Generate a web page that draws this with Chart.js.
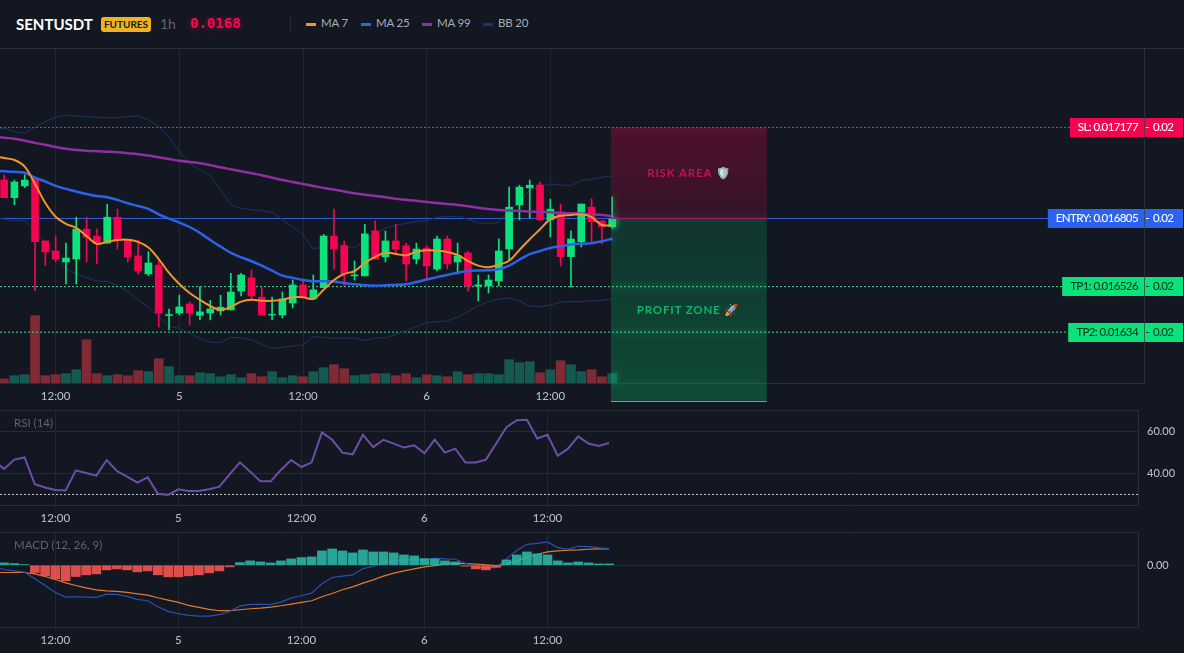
<!DOCTYPE html>
<html>
<head>
<meta charset="utf-8">
<script src="https://cdn.jsdelivr.net/npm/chart.js@4"></script>
<style>
    html, body { margin: 0; padding: 0; width: 1184px; height: 653px; overflow: hidden; background: #131722; font-family: Lato, sans-serif; }
    canvas { position: absolute; left: 0; }
    #header { position: absolute; left: 0; top: 0; width: 1184px; height: 48px; border-bottom: 1px solid #2a2e39; box-sizing: content-box; }
    #header span { position: absolute; white-space: nowrap; }
    .symbol { left: 16px; top: 15px; color: #fff; font-size: 15px; font-weight: 700; }
    .badge { left: 101px; top: 17px; width: 50px; height: 15px; line-height: 15px; text-align: center; background: #ecb424; color: #1a1a1a; font-size: 10px; font-weight: 700; border-radius: 3px; }
    .tf { left: 160px; top: 15px; color: #5d6470; font-size: 14px; }
    .price { left: 190px; top: 15px; color: #f6084f; font: 700 14px "DejaVu Sans Mono", monospace; text-shadow: 0 0 6px rgba(246,8,79,.5); }
    .divider { left: 290px; top: 17px; width: 1px; height: 14px; background: #2a2e39; }
    .dash { top: 23px; width: 10px; height: 3px; }
    .leg { top: 16px; color: #a7adb8; font-size: 11.5px; letter-spacing: -0.2px; }
    .pane-title { position: absolute; left: 14px; color: #5e6470; font-size: 11.5px; }
</style>
</head>
<body>
<div id="header">
    <span class="symbol">SENTUSDT</span>
    <span class="badge">FUTURES</span>
    <span class="tf">1h</span>
    <span class="price">0.0168</span>
    <span class="divider"></span>
    <span class="dash" style="left:306px;background:#f0962a"></span><span class="leg" style="left:321px">MA 7</span>
    <span class="dash" style="left:361px;background:#2b62e8"></span><span class="leg" style="left:376px">MA 25</span>
    <span class="dash" style="left:422px;background:#8e2fa3"></span><span class="leg" style="left:437px">MA 99</span>
    <span class="dash" style="left:483px;background:#1e3464"></span><span class="leg" style="left:498px">BB 20</span>
</div>
<canvas id="mainChart" style="top:0" width="1184" height="410"></canvas>
<canvas id="rsiChart" style="top:405px" width="1184" height="127"></canvas>
<canvas id="macdChart" style="top:527px" width="1184" height="126"></canvas>
<div class="pane-title" style="top:416px">RSI (14)</div>
<div class="pane-title" style="top:538px">MACD (12, 26, 9)</div>

<script>
// Axis
const timeTicks = [5, 17, 29, 41, 53];
const timeLabels = ['12:00', '5', '12:00', '6', '12:00'];
const xMin = -0.4;
const xMax = 110.6;

// Candles, first entry sits just left of the visible area
const opens = [0.016960,
    0.016962,0.016890,0.016938,0.016969,0.016713,0.016672,0.016627,0.016639,0.016761,0.016733,
    0.016704,0.016810,0.016717,0.016652,0.016578,0.016614,0.016408,0.016418,0.016455,0.016409,
    0.016418,0.016427,0.016431,0.016508,0.016562,0.016483,0.016410,0.016410,0.016459,0.016533,
    0.016476,0.016522,0.016733,0.016693,0.016570,0.016570,0.016754,0.016648,0.016713,0.016693,
    0.016639,0.016684,0.016598,0.016721,0.016627,0.016664,0.016529,0.016529,0.016549,0.016680,
    0.016860,0.016930,0.016942,0.016799,0.016832,0.016649,0.016709,0.016851,0.016795,0.016771];
const highs = [0.016990,
    0.016983,0.016962,0.016983,0.016971,0.016713,0.016733,0.016704,0.016810,0.016810,0.016761,
    0.016863,0.016843,0.016717,0.016717,0.016669,0.016635,0.016434,0.016491,0.016463,0.016526,
    0.016470,0.016491,0.016581,0.016581,0.016594,0.016524,0.016483,0.016504,0.016553,0.016553,
    0.016574,0.016740,0.016843,0.016713,0.016631,0.016781,0.016795,0.016754,0.016781,0.016704,
    0.016704,0.016693,0.016733,0.016733,0.016704,0.016672,0.016574,0.016574,0.016721,0.016933,
    0.016941,0.016962,0.016954,0.016884,0.016864,0.016754,0.016864,0.016885,0.016795,0.016893];
const lows = [0.016930,
    0.016890,0.016861,0.016931,0.016510,0.016612,0.016628,0.016537,0.016537,0.016627,0.016619,
    0.016704,0.016680,0.016627,0.016578,0.016571,0.016361,0.016349,0.016410,0.016369,0.016390,
    0.016390,0.016410,0.016431,0.016488,0.016472,0.016410,0.016390,0.016398,0.016439,0.016480,
    0.016472,0.016522,0.016598,0.016529,0.016553,0.016570,0.016639,0.016627,0.016663,0.016549,
    0.016619,0.016558,0.016590,0.016598,0.016578,0.016508,0.016468,0.016500,0.016529,0.016635,
    0.016799,0.016807,0.016795,0.016729,0.016611,0.016524,0.016688,0.016709,0.016701,0.016766];
const closes = [0.016950,
    0.016890,0.016954,0.016962,0.016710,0.016668,0.016639,0.016643,0.016761,0.016728,0.016704,
    0.016810,0.016717,0.016648,0.016590,0.016623,0.016418,0.016412,0.016443,0.016418,0.016423,
    0.016435,0.016442,0.016504,0.016574,0.016488,0.016410,0.016413,0.016476,0.016533,0.016484,
    0.016513,0.016733,0.016680,0.016578,0.016574,0.016742,0.016639,0.016713,0.016680,0.016619,
    0.016680,0.016611,0.016721,0.016619,0.016652,0.016529,0.016533,0.016553,0.016672,0.016851,
    0.016933,0.016941,0.016799,0.016843,0.016649,0.016721,0.016864,0.016791,0.016771,0.016803];
const volumes = [90,
    40,73,83,673,73,83,93,133,433,93,
    73,83,73,123,113,243,163,73,73,103,
    93,63,83,53,93,63,113,53,73,63,
    113,153,183,143,73,83,93,93,73,93,
    53,83,73,63,113,83,93,93,83,233,
    203,213,103,133,223,183,113,133,63,93];

// Moving averages and bands
const ma7 = [0.017060,
    0.017052,0.017044,0.017017,0.016946,0.016868,0.016812,0.016783,0.016766,0.016733,0.016701,
    0.016710,0.016717,0.016718,0.016709,0.016686,0.016639,0.016582,0.016537,0.016500,0.016472,
    0.016447,0.016431,0.016443,0.016465,0.016472,0.016468,0.016468,0.016472,0.016483,0.016483,
    0.016476,0.016513,0.016553,0.016578,0.016590,0.016623,0.016648,0.016665,0.016660,0.016654,
    0.016669,0.016675,0.016673,0.016668,0.016656,0.016631,0.016612,0.016605,0.016616,0.016632,
    0.016676,0.016720,0.016761,0.016802,0.016816,0.016819,0.016822,0.016810,0.016778,0.016777];
const ma25 = [0.017000,
    0.016998,0.016996,0.016992,0.016972,0.016956,0.016938,0.016926,0.016915,0.016905,0.016897,
    0.016892,0.016881,0.016867,0.016856,0.016844,0.016822,0.016804,0.016788,0.016770,0.016746,
    0.016717,0.016690,0.016664,0.016646,0.016630,0.016612,0.016592,0.016571,0.016562,0.016553,
    0.016548,0.016548,0.016547,0.016541,0.016536,0.016532,0.016530,0.016532,0.016533,0.016536,
    0.016545,0.016555,0.016565,0.016574,0.016583,0.016590,0.016592,0.016593,0.016597,0.016612,
    0.016636,0.016659,0.016672,0.016684,0.016691,0.016698,0.016701,0.016704,0.016712,0.016722];
const ma99 = [0.017140,
    0.017135,0.017131,0.017123,0.017114,0.017106,0.017097,0.017090,0.017085,0.017082,0.017080,
    0.017078,0.017076,0.017072,0.017068,0.017062,0.017055,0.017048,0.017041,0.017036,0.017031,
    0.017023,0.017014,0.017006,0.016998,0.016990,0.016982,0.016972,0.016962,0.016954,0.016946,
    0.016938,0.016930,0.016923,0.016915,0.016908,0.016902,0.016897,0.016892,0.016885,0.016881,
    0.016877,0.016872,0.016868,0.016864,0.016860,0.016855,0.016849,0.016844,0.016840,0.016837,
    0.016836,0.016833,0.016832,0.016830,0.016827,0.016826,0.016825,0.016822,0.016819,0.016815];
const bbUpper = [0.017170,
    0.017174,0.017160,0.017153,0.017179,0.017201,0.017219,0.017227,0.017224,0.017221,0.017219,
    0.017217,0.017217,0.017221,0.017225,0.017208,0.017180,0.017137,0.017078,0.017031,0.017003,
    0.016979,0.016922,0.016860,0.016847,0.016840,0.016836,0.016830,0.016799,0.016769,0.016740,
    0.016679,0.016690,0.016701,0.016693,0.016683,0.016717,0.016744,0.016765,0.016777,0.016785,
    0.016792,0.016796,0.016810,0.016812,0.016815,0.016802,0.016788,0.016783,0.016788,0.016840,
    0.016867,0.016922,0.016935,0.016946,0.016942,0.016939,0.016960,0.016965,0.016974,0.016979];
const bbLower = [0.016808,
    0.016802,0.016796,0.016796,0.016751,0.016704,0.016649,0.016601,0.016578,0.016563,0.016549,
    0.016547,0.016530,0.016506,0.016472,0.016442,0.016403,0.016362,0.016356,0.016335,0.016315,
    0.016299,0.016297,0.016319,0.016317,0.016308,0.016290,0.016274,0.016277,0.016284,0.016288,
    0.016322,0.016319,0.016315,0.016315,0.016316,0.016305,0.016316,0.016317,0.016331,0.016346,
    0.016362,0.016379,0.016383,0.016386,0.016401,0.016424,0.016448,0.016465,0.016476,0.016479,
    0.016468,0.016446,0.016444,0.016451,0.016463,0.016465,0.016465,0.016468,0.016470,0.016476];

// Trade levels
const levelNames = ['SL', 'ENTRY', 'TP1', 'TP2'];
const levelPrices = [0.017177, 0.016805, 0.016526, 0.01634];
const lotSize = '0.02';
const zoneStart = 58.95;
const zoneEnd = 74;
const profitFloor = 0.016059;

// RSI
const rsi = [46,
    42.1,46.5,47.5,34.8,33.3,32.1,31.9,41.4,40.2,38.9,
    46.3,41.1,38.4,35.6,38.1,30.3,29.8,32.4,31.6,31.6,
    32.5,33.7,39.5,45.2,40.8,36.2,36.2,41.6,46.3,43,
    45.2,59.4,55.9,49.8,49,58.3,52.4,55.9,54.1,52.2,
    53.3,49.5,56,49.8,51.7,45.1,45.1,46.5,54.1,61.9,
    65.1,65.4,56.5,58.3,48.3,51.7,57.5,54.1,53,54.4];
const rsiTicks = [25, 40, 60, 70];
const rsiLevel = 30;

// MACD, values in units of 1e-6
const macdLine = [-3,
    -13,-17,-21,-41,-61,-82,-96,-95,-96,-97,
    -87,-88,-94,-103,-107,-125,-139,-146,-151,-153,
    -153,-149,-139,-123,-118,-118,-118,-111,-99,-92,
    -84,-56,-37,-33,-29,-10,-4,8,13,16,
    16,16,21,19,18,6,-5,-7,-7,19,
    44,63,66,70,53,48,57,56,52,50];
const macdSignal = [-22,
    -22,-22,-22,-26,-34,-43,-53,-61,-68,-74,
    -77,-79,-82,-86,-90,-98,-105,-112,-121,-127,
    -133,-137,-137,-134,-131,-129,-126,-122,-117,-112,
    -107,-95,-85,-74,-65,-54,-44,-33,-24,-17,
    -11,-5,-1,3,5,5,3,1,-1,3,
    13,24,33,40,43,45,46,48,49,49];
const macdHist = [7,
    7,5,2,-22,-32,-41,-47,-34,-29,-26,
    -14,-11,-14,-20,-17,-29,-35,-35,-32,-29,
    -23,-17,-5,8,13,10,7,13,19,23,
    25,43,49,43,37,46,40,40,37,31,
    28,20,19,13,10,-3,-11,-14,-6,16,
    31,40,34,31,13,7,10,7,4,4];
const macdTicks = [-186, 0, 100];

const RED = '#f5054f';
const GREEN = '#0ce27c';
const GRID = '#22262f';
const LINE = '#2a2e39';
const FONT = 'Lato, sans-serif';

const xAt = i => i - 1;
const toPoints = arr => arr.map((y, i) => ({ x: xAt(i), y }));
const isUp = i => closes[i] >= opens[i];

function timeAxis(height) {
    return {
        type: 'linear', min: xMin, max: xMax, offset: false,
        afterBuildTicks: axis => { axis.ticks = timeTicks.map(value => ({ value })); },
        afterFit: axis => { axis.height = height; axis.paddingLeft = 0; axis.paddingRight = 0; },
        grid: { color: GRID, offset: false, tickLength: 3 },
        border: { color: LINE },
        ticks: {
            autoSkip: false, maxRotation: 0, padding: 3, color: '#b7bbc4',
            font: { family: FONT, size: 11.5, weight: '500' },
            callback: v => timeLabels[timeTicks.indexOf(v)] ?? ''
        }
    };
}

function lineSet(data, color, width, order, tension = 0) {
    return { type: 'line', data: toPoints(data), borderColor: color, borderWidth: width, pointRadius: 0, tension, order };
}

function levelSet(price, color, dash, order) {
    return {
        type: 'line',
        data: [{ x: xMin, y: price }, { x: xMax, y: price }],
        borderColor: color, borderWidth: 1, borderDash: dash, pointRadius: 0, order
    };
}

// The boxes blur whatever lies under them, like a frosted panel
function frost(chart, left, top, width, height) {
    const { ctx, canvas } = chart;
    const r = chart.currentDevicePixelRatio || 1;
    const m = 8;
    ctx.save();
    ctx.beginPath();
    ctx.rect(left, top, width, height);
    ctx.clip();
    ctx.filter = 'blur(3px)';
    ctx.drawImage(canvas,
        (left - m) * r, (top - m) * r, (width + 2 * m) * r, (height + 2 * m) * r,
        left - m, top - m, width + 2 * m, height + 2 * m);
    ctx.restore();
}

// Risk and profit boxes plus the level tags on the right
const tradeOverlay = {
    id: 'tradeOverlay',
    afterDatasetsDraw(chart) {
        const { ctx, scales: { x, y } } = chart;
        const left = Math.floor(x.getPixelForValue(zoneStart));
        const right = x.getPixelForValue(zoneEnd);
        const slY = y.getPixelForValue(levelPrices[0]);
        const entryY = y.getPixelForValue(levelPrices[1]);
        const floorY = y.getPixelForValue(profitFloor);

        frost(chart, left, slY, right - left, floorY - slY);

        ctx.save();
        let g = ctx.createLinearGradient(0, slY, 0, entryY);
        g.addColorStop(0, 'rgba(255,0,80,0.25)');
        g.addColorStop(1, 'rgba(255,0,80,0.15)');
        ctx.fillStyle = g;
        ctx.fillRect(left, slY, right - left, entryY - slY);

        g = ctx.createLinearGradient(0, entryY, 0, floorY);
        g.addColorStop(0, 'rgba(0,230,118,0.15)');
        g.addColorStop(1, 'rgba(0,230,118,0.25)');
        ctx.fillStyle = g;
        ctx.fillRect(left, entryY, right - left, floorY - entryY);

        ctx.fillStyle = '#a0204f';
        ctx.fillRect(left, Math.floor(entryY), right - left, 1);
        ctx.fillStyle = '#34c97f';
        ctx.fillRect(left, Math.round(floorY), right - left, 1);

        // Zone captions
        const mid = (left + right) / 2;
        ctx.textAlign = 'center';
        ctx.textBaseline = 'middle';
        ctx.letterSpacing = '0.8px';
        ctx.font = `bold 11.5px ${FONT}`;
        ctx.fillStyle = '#c3134f';
        ctx.fillText('RISK AREA 🛡️', mid, (slY + entryY) / 2);
        ctx.fillStyle = '#0fb56b';
        ctx.fillText('PROFIT ZONE 🚀', mid - 1, (entryY + floorY) / 2 + 1);

        // Level tags
        const axisX = x.right;
        const tagFill = ['#f5054f', '#2b62f0', '#0ce27c', '#0ce27c'];
        const tagText = ['#ffffff', '#ffffff', '#07391f', '#07391f'];
        ctx.font = `500 11.5px ${FONT}`;
        ctx.letterSpacing = '-0.6px';
        levelNames.forEach((name, i) => {
            const py = Math.floor(y.getPixelForValue(levelPrices[i]));
            const label = `${name}: ${levelPrices[i]}`;
            const w = ctx.measureText(label).width;
            const boxLeft = axisX - 6 - w - 8;
            ctx.fillStyle = tagFill[i];
            ctx.fillRect(boxLeft, py - 9, 1183 - boxLeft, 19);
            ctx.fillStyle = 'rgba(60,64,78,0.8)';
            ctx.fillRect(axisX, py - 9, 1, 19);
            ctx.fillStyle = tagText[i];
            ctx.textBaseline = 'middle';
            ctx.textAlign = 'right';
            ctx.fillText(label, axisX - 6, py + 0.5);
            ctx.textAlign = 'center';
            ctx.fillText('-', axisX + 3, py + 0.5);
            ctx.textAlign = 'left';
            ctx.fillText(lotSize, axisX + 9, py + 0.5);
        });
        ctx.restore();
    }
};

const baseOptions = {
    responsive: false, animation: false,
    plugins: { legend: { display: false }, tooltip: { enabled: false } },
    events: []
};

new Chart(document.getElementById('mainChart'), {
    data: {
        datasets: [
            lineSet(ma7, '#f0962a', 2, 1, 0.35),
            lineSet(ma25, '#2b62e8', 2.5, 2, 0.35),
            lineSet(ma99, '#8e2fa3', 2.5, 3, 0.35),
            {
                type: 'bar', order: 4, grouped: false, barThickness: 7,
                data: opens.map((o, i) => ({ x: xAt(i), y: [o, closes[i]] })),
                backgroundColor: opens.map((_, i) => isUp(i) ? GREEN : RED)
            },
            {
                type: 'bar', order: 5, grouped: false, barThickness: 1,
                data: highs.map((h, i) => ({ x: xAt(i), y: [lows[i], h] })),
                backgroundColor: opens.map((_, i) => isUp(i) ? GREEN : RED)
            },
            lineSet(bbUpper, '#1e3464', 1, 6),
            lineSet(bbLower, '#1e3464', 1, 6),
            levelSet(levelPrices[0], '#ff1f6a', [2, 2], 7),
            levelSet(levelPrices[1], '#2f5fe0', [], 7),
            levelSet(levelPrices[2], '#4ad891', [2, 2], 7),
            levelSet(levelPrices[3], '#4ad891', [2, 2], 7),
            {
                type: 'bar', order: 8, grouped: false, barThickness: 9, yAxisID: 'yVol',
                data: toPoints(volumes),
                backgroundColor: opens.map((_, i) => isUp(i) ? '#155a50' : '#7f2a35')
            }
        ]
    },
    options: {
        ...baseOptions,
        layout: { padding: { top: 49 } },
        scales: {
            x: timeAxis(27),
            y: {
                position: 'right', min: 0.016132, max: 0.017498,
                afterFit: axis => { axis.width = 40; },
                grid: { display: false },
                border: { color: LINE },
                ticks: { display: false }
            },
            yVol: { display: false, min: 0, max: 3340 }
        }
    },
    plugins: [tradeOverlay]
});

function paneY(ticks, labelFn) {
    return {
        position: 'right', min: ticks[0], max: ticks[ticks.length - 1],
        afterBuildTicks: axis => { axis.ticks = ticks.map(value => ({ value })); },
        afterFit: axis => { axis.width = 46; axis.paddingTop = 0; axis.paddingBottom = 0; },
        grid: { color: '#262a35', drawTicks: false },
        border: { color: LINE },
        ticks: { color: '#b7bbc4', padding: 9, font: { family: FONT, size: 11, weight: '500' }, callback: labelFn }
    };
}

new Chart(document.getElementById('rsiChart'), {
    data: {
        datasets: [
            lineSet(rsi, '#6d4ea8', 2, 1),
            levelSet(rsiLevel, '#c9ccd3', [2, 2], 2)
        ]
    },
    options: {
        ...baseOptions,
        layout: { padding: { top: 5 } },
        scales: {
            x: timeAxis(27),
            y: paneY(rsiTicks, v => (v === 40 || v === 60) ? v.toFixed(2) : '')
        }
    }
});

new Chart(document.getElementById('macdChart'), {
    data: {
        datasets: [
            {
                type: 'bar', order: 1, barThickness: 9,
                data: toPoints(macdHist),
                backgroundColor: macdHist.map(v => v >= 0 ? 'rgba(44,181,165,0.9)' : 'rgba(245,85,80,0.9)')
            },
            lineSet(macdLine, '#2a50b0', 1.2, 2),
            lineSet(macdSignal, '#e07a30', 1.2, 3)
        ]
    },
    options: {
        ...baseOptions,
        layout: { padding: { top: 5 } },
        scales: {
            x: timeAxis(26),
            y: paneY(macdTicks, v => v === 0 ? '0.00' : '')
        }
    }
});
</script>
</body>
</html>
